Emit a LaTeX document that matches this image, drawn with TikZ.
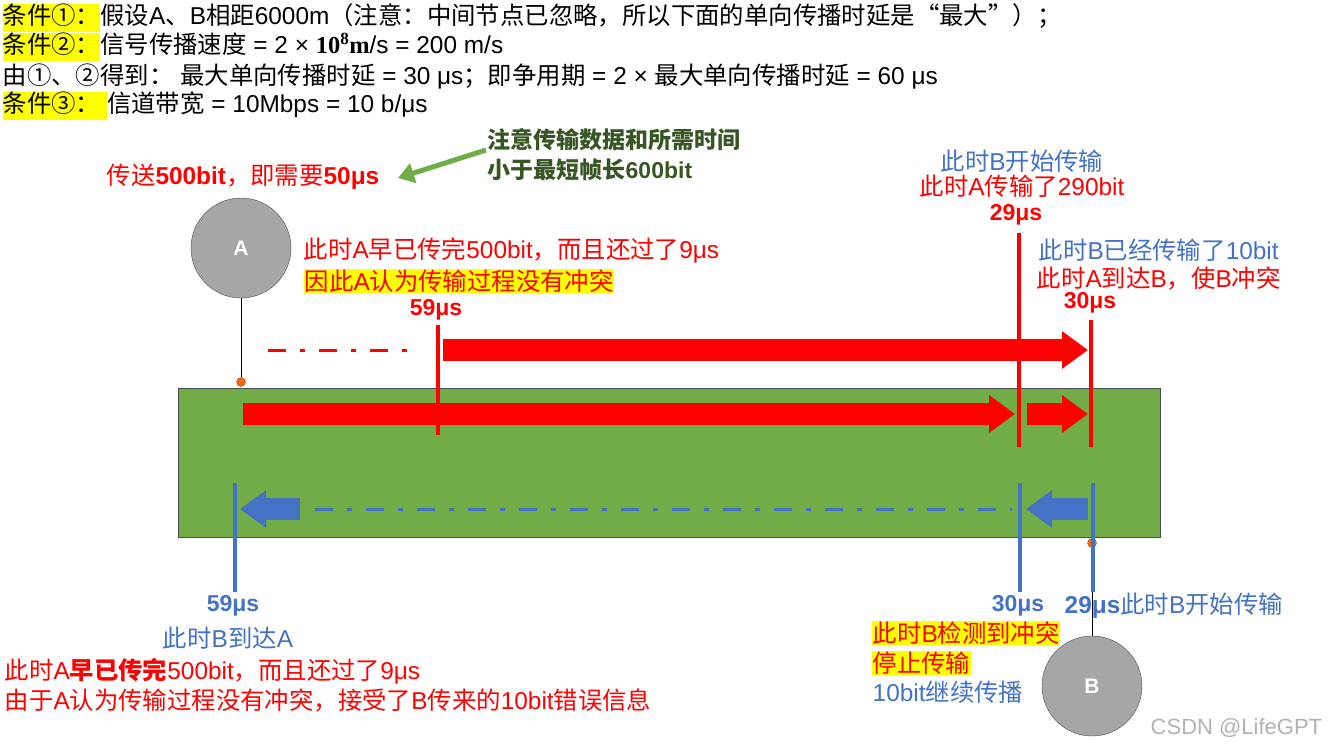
\documentclass[tikz,border=0pt]{standalone}
\usepackage{fontspec}
\setmainfont{Liberation Sans}
\newfontfamily\cjk{Noto Sans CJK SC}
\newfontfamily\serifb{Liberation Serif}
\XeTeXinterchartokenstate=1
\newXeTeXintercharclass\cjkcls
\newcount\cc
\def\setrange#1#2{\cc=#1 \loop\XeTeXcharclass\cc=\cjkcls \ifnum\cc<#2 \advance\cc by 1 \repeat}
\setrange{"4E00}{"9FFF}
\setrange{"3000}{"303F}
\setrange{"FF00}{"FFEF}
\setrange{"2460}{"24FF}
\XeTeXcharclass"201C=\cjkcls
\XeTeXcharclass"201D=\cjkcls
\XeTeXinterchartoks 0 \cjkcls = {\begingroup\cjk}
\XeTeXinterchartoks 4095 \cjkcls = {\begingroup\cjk}
\XeTeXinterchartoks \cjkcls 0 = {\endgroup}
\XeTeXinterchartoks \cjkcls 4095 = {\endgroup}
\usetikzlibrary{arrows.meta}
\definecolor{rd}{HTML}{FF0000}
\definecolor{bl}{HTML}{4472C4}
\definecolor{gr}{HTML}{70AD47}
\definecolor{dg}{HTML}{375623}
\definecolor{hl}{HTML}{FFFF00}
\begin{document}
\begin{tikzpicture}[x=1pt,y=-1pt,
 t/.style={font=\fontsize{24.4}{27}\selectfont,inner sep=0.5pt,anchor=west},
 tb/.style={font=\bfseries\fontsize{23}{26}\selectfont,inner sep=0.5pt,anchor=center},
 fatr/.style={-{Triangle[length=26pt,width=36pt]},line width=22pt,rd},
 fatb/.style={-{Triangle[length=26pt,width=36pt]},line width=22pt,bl},
 rv/.style={line width=4.5pt,rd},
 bv/.style={line width=4.5pt,bl},
 circ/.style={circle,draw=black!70,fill=black!35,minimum size=100pt,text=white,font=\bfseries\fontsize{21}{22}\selectfont},
 dot/.style={circle,fill=orange!80!red,draw=black!60,inner sep=0pt,minimum size=9pt}]
\useasboundingbox[fill=white] (0,0) rectangle (1334,750);
\node[t] (l1) at (2,18) {\fboxsep=0pt\colorbox{hl}{\strut 条件①：}假设A、B相距6000m（注意：中间节点已忽略，所以下面的单向传播时延是“最大”）；};
\node[t] (l2) at (2,47) {\fboxsep=0pt\colorbox{hl}{\strut 条件②：}信号传播速度 = 2 × {\serifb\bfseries 10\textsuperscript{8}m}/s = 200 m/s};
\node[t] (l3) at (2,77) {由①、②得到： 最大单向传播时延 = 30 μs；即争用期 = 2 × 最大单向传播时延 = 60 μs};
\node[t] (l4) at (2,106) {\fboxsep=0pt\colorbox{hl}{\strut 条件③： }信道带宽 = 10Mbps = 10 b/μs};
\node[draw=black!70,fill=gr,minimum width=982pt,minimum height=149pt,anchor=north west,inner sep=0] (ch) at (178,388) {};
\node[circ] (A) at (241,248) {A};
\node[circ] (B) at (1092,686) {B};
\node[dot] (da) at (241,382) {};
\node[dot] (db) at (1092,543) {};
\draw (A.south) -- (da);
\draw (B.north) -- (db);
\coordinate (r1s) at (443,350); \coordinate (r1e) at (1088,350);
\draw[fatr] (r1s) -- (r1e);
\coordinate (r2s) at (243,414); \coordinate (r2e) at (1015,414);
\draw[fatr] (r2s) -- (r2e);
\coordinate (r3s) at (1027,414); \coordinate (r3e) at (1088,414);
\draw[fatr] (r3s) -- (r3e);
\coordinate (dd1) at (268,350); \coordinate (dd2) at (415,350);
\draw[rd,line width=3pt,dash pattern=on 18pt off 14pt on 5pt off 14pt] (dd1) -- (dd2);
\coordinate (v1a) at (438,325); \coordinate (v1b) at (438,435);
\draw[rv] (v1a) -- (v1b);
\coordinate (v2a) at (1019,233); \coordinate (v2b) at (1019,447);
\draw[rv] (v2a) -- (v2b);
\coordinate (v3a) at (1091,320); \coordinate (v3b) at (1091,447);
\draw[rv] (v3a) -- (v3b);
\coordinate (b1a) at (235,483); \coordinate (b1b) at (235,592);
\draw[bv] (b1a) -- (b1b);
\coordinate (b2a) at (1020,483); \coordinate (b2b) at (1020,592);
\draw[bv] (b2a) -- (b2b);
\coordinate (b3a) at (1093,483); \coordinate (b3b) at (1093,592);
\draw[bv] (b3a) -- (b3b);
\coordinate (ba1s) at (300,509); \coordinate (ba1e) at (240,509);
\draw[fatb] (ba1s) -- (ba1e);
\coordinate (ba2s) at (1088,509); \coordinate (ba2e) at (1026,509);
\draw[fatb] (ba2s) -- (ba2e);
\coordinate (bd1) at (315,509); \coordinate (bd2) at (1012,509);
\draw[bl,line width=3pt,dash pattern=on 18pt off 14pt on 5pt off 14pt] (bd1) -- (bd2);
\coordinate (ga) at (486,150); \coordinate (gb) at (398,178);
\draw[gr,line width=5pt,-{Triangle[length=16pt,width=20pt]}] (ga) -- (gb);
\node[t,text=rd] (s1) at (106,177) {传送\textbf{500bit}，即需要\textbf{50μs}};
\node[t,text=dg,font=\bfseries\fontsize{23}{30}\selectfont,align=left,anchor=north west] (s2) at (487,128) {注意传输数据和所需时间\\小于最短帧长600bit};
\node[t,text=rd] (s3) at (303,250) {此时A早已传完500bit，而且还过了9μs};
\node[t,fill=hl] (s4) at (304,281) {\textcolor{rd}{因此A认为传输过程没有冲突}};
\node[tb,text=rd] (s5) at (436,310) {59μs};
\node[t,text=bl,anchor=center] (s6) at (1022,161) {此时B开始传输};
\node[t,text=rd,anchor=center] (s7) at (1022,186) {此时A传输了290bit};
\node[tb,text=rd] (s8) at (1016,215) {29μs};
\node[t,text=bl] (s9) at (1038,250) {此时B已经传输了10bit};
\node[t,text=rd] (s10) at (1036,278) {此时A到达B，使B冲突};
\node[tb,text=rd] (s11) at (1090,303) {30μs};
\node[tb,text=bl] (s12) at (233,606) {59μs};
\node[t,text=bl,anchor=center] (s13) at (228,638) {此时B到达A};
\node[t,text=rd] (s14) at (4,671) {此时A\textbf{早已传完}500bit，而且还过了9μs};
\node[t,text=rd] (s15) at (4,700) {由于A认为传输过程没有冲突，接受了B传来的10bit错误信息};
\node[tb,text=bl] (s16) at (1018,606) {30μs};
\node[t,text=bl] (s17) at (1064,606) {\textbf{29μs}此时B开始传输};
\node[t,fill=hl] (s18) at (872,633) {\textcolor{rd}{此时B检测到冲突}};
\node[t,fill=hl] (s19) at (872,663) {\textcolor{rd}{停止传输}};
\node[t,text=bl] (s20) at (872,692) {10bit继续传播};
\node[t,text=black!30,font=\fontsize{22}{24}\selectfont] (s21) at (1150,728) {CSDN @LifeGPT};
\end{tikzpicture}
\end{document}
